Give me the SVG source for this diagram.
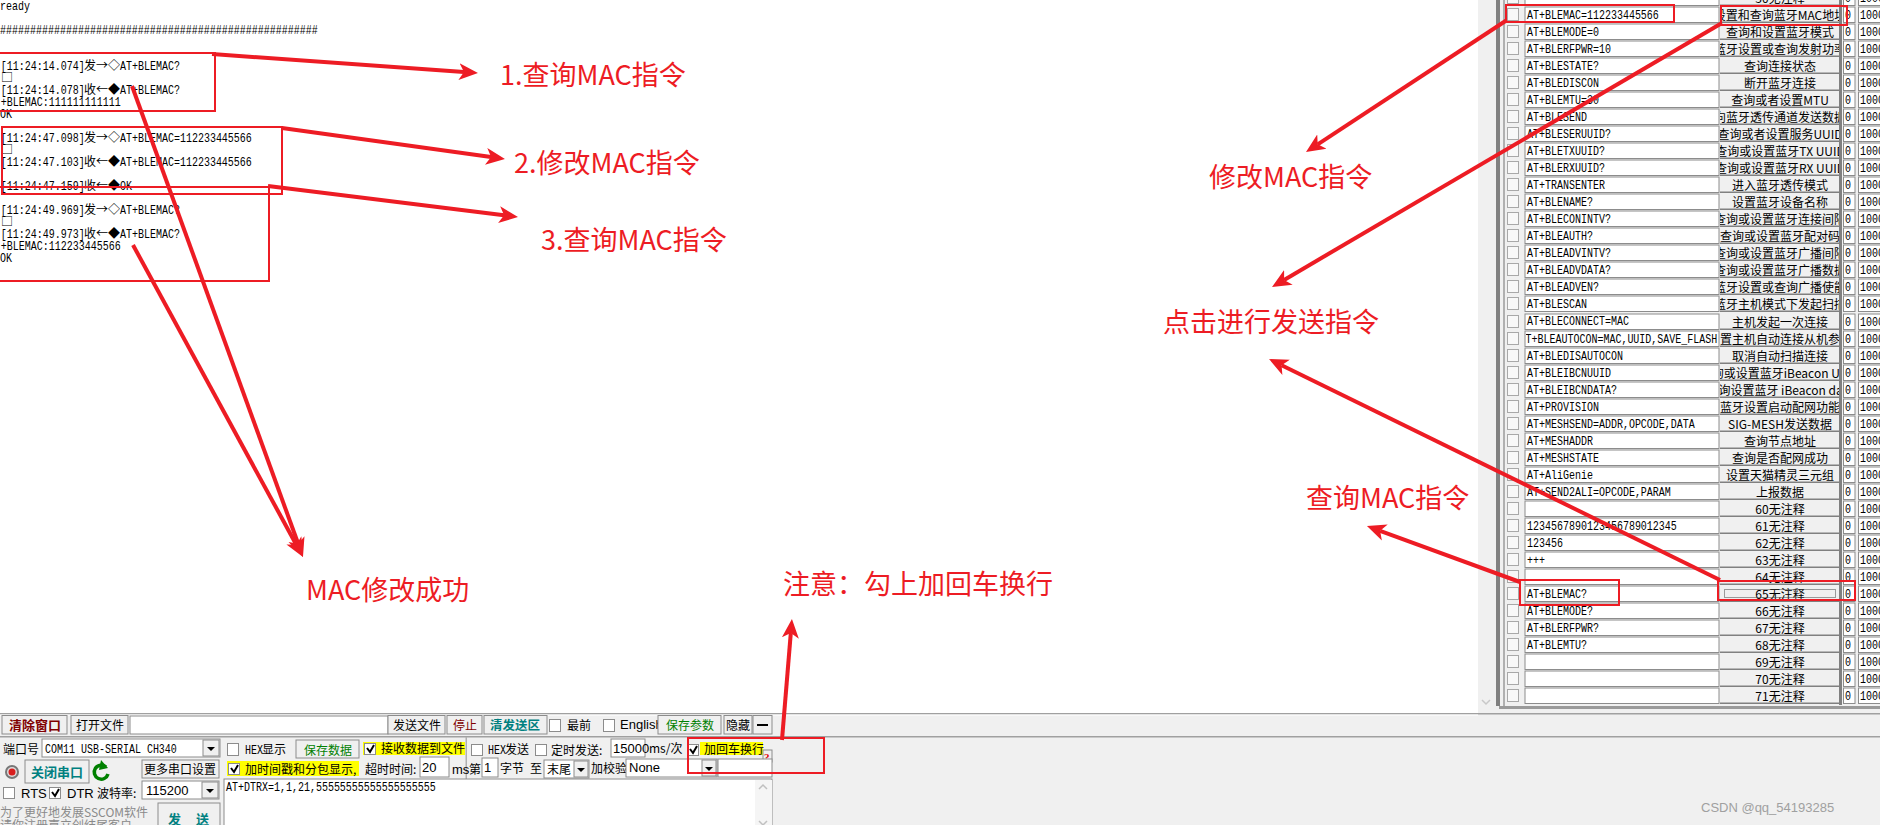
<svg xmlns="http://www.w3.org/2000/svg" xmlns:xlink="http://www.w3.org/1999/xlink" width="1880" height="825" viewBox="0 0 1880 825">
<style>
text{font-family:"Noto Sans CJK SC","Liberation Sans",sans-serif;fill:#000}
.m{font-family:"Liberation Mono","Noto Sans CJK SC",monospace;font-size:12px}
.c{font-size:12px}
.u{font-size:13px}
.s{font-family:"Liberation Sans","Noto Sans CJK SC",sans-serif;font-size:13px}
.bt{font-size:12px;text-anchor:middle}
.a{font-family:"Noto Sans CJK SC","Liberation Sans",sans-serif;font-size:27px;fill:#ed1c24}
.box{fill:none;stroke:#ed1c24;stroke-width:2}
.ar{fill:none;stroke:#ed1c24;stroke-width:4;marker-end:url(#h)}
.btn{fill:#f0f0f0;stroke:#8c8c8c;stroke-width:1}
.inp{fill:#fff;stroke:#8c8c8c;stroke-width:1}
.cb{fill:#fff;stroke:#8c8c8c;stroke-width:1}
.ck{fill:none;stroke:#000;stroke-width:2}
.tri{fill:#000}
.y{fill:#ffff00}
.g{fill:#008000}
.t{fill:#008080;font-weight:700}
</style>
<defs>
<marker id="h" markerUnits="userSpaceOnUse" markerWidth="20" markerHeight="20" viewBox="0 -10 20 20" refX="5" refY="0" orient="auto"><path d="M0 -8.5L19 0L0 8.5L5 0Z" fill="#ed1c24"/></marker>
<clipPath id="cellclip"><rect x="1526" y="0" width="193" height="710"/></clipPath>
<clipPath id="btnclip"><rect x="1720" y="-12" width="119" height="722"/></clipPath>
<clipPath id="lastclip"><rect x="1859" y="-12" width="21" height="722"/></clipPath>
<g id="row">
<rect x="1507.5" y="-6.5" width="11" height="12" fill="#f8f8f8" stroke="#a8a8a8"/>
<rect x="1525" y="-8" width="194" height="15.5" fill="#fff" stroke="#8c8c8c"/>
<rect x="1720" y="-8" width="119" height="15.5" fill="#f0f0f0"/>
<rect x="1720" y="6.5" width="119" height="1.5" fill="#808080"/>
<rect x="1843.5" y="-8" width="11.5" height="15.5" fill="#fff" stroke="#8c8c8c"/>
<rect x="1858.5" y="-8" width="30" height="15.5" fill="#fff" stroke="#8c8c8c"/>
<g transform="translate(1845 4) scale(.8333 1)"><text class="m">0</text></g>
<g transform="translate(1860 4) scale(.8333 1)"><text class="m">1000</text></g>
</g>
</defs>

<rect width="1880" height="825" fill="#fff"/>

<g id="log">
<g transform="scale(.8333 1)">
<text class="m" x="0" y="10">ready</text>
<text class="m" x="0" y="34">#####################################################</text>
<text class="m" x="1" y="70">[11:24:14.074]</text><text class="m" x="144" y="70">AT+BLEMAC?</text>
<text class="m" x="1" y="94">[11:24:14.078]</text><text class="m" x="144" y="94">AT+BLEMAC?</text>
<text class="m" x="1" y="106">+BLEMAC:111111111111</text>
<text class="m" x="0" y="118">OK</text>
<text class="m" x="1" y="142">[11:24:47.098]</text><text class="m" x="144" y="142">AT+BLEMAC=112233445566</text>
<text class="m" x="1" y="166">[11:24:47.103]</text><text class="m" x="144" y="166">AT+BLEMAC=112233445566</text>
<text class="m" x="1" y="190">[11:24:47.159]</text><text class="m" x="144" y="190">OK</text>
<text class="m" x="1" y="214">[11:24:49.969]</text><text class="m" x="144" y="214">AT+BLEMAC?</text>
<text class="m" x="1" y="238">[11:24:49.973]</text><text class="m" x="144" y="238">AT+BLEMAC?</text>
<text class="m" x="1" y="250">+BLEMAC:112233445566</text>
<text class="m" x="0" y="262">OK</text>
</g>
<text class="c" x="84" y="70">发→◇</text><text class="c" x="1" y="82">□</text>
<text class="c" x="84" y="94">收←◆</text>
<text class="c" x="84" y="142">发→◇</text><text class="c" x="1" y="154">□</text>
<text class="c" x="84" y="166">收←◆</text>
<text class="c" x="84" y="190">收←◆</text>
<text class="c" x="84" y="214">发→◇</text><text class="c" x="1" y="226">□</text>
<text class="c" x="84" y="238">收←◆</text>
</g>

<g id="table">
<rect x="1478" y="0" width="402" height="713" fill="#f0f0f0"/>
<rect x="1496" y="0" width="4" height="706" fill="#808080"/>
<rect x="1503" y="0" width="2" height="706" fill="#b0b0b0"/>
<use xlink:href="#row" href="#row" y="-2"/><use xlink:href="#row" href="#row" y="15"/><use xlink:href="#row" href="#row" y="32"/><use xlink:href="#row" href="#row" y="49"/><use xlink:href="#row" href="#row" y="66"/><use xlink:href="#row" href="#row" y="83"/><use xlink:href="#row" href="#row" y="100"/><use xlink:href="#row" href="#row" y="117"/><use xlink:href="#row" href="#row" y="134"/><use xlink:href="#row" href="#row" y="151"/><use xlink:href="#row" href="#row" y="168"/><use xlink:href="#row" href="#row" y="185"/><use xlink:href="#row" href="#row" y="202"/><use xlink:href="#row" href="#row" y="219"/><use xlink:href="#row" href="#row" y="236"/><use xlink:href="#row" href="#row" y="253"/><use xlink:href="#row" href="#row" y="270"/><use xlink:href="#row" href="#row" y="287"/><use xlink:href="#row" href="#row" y="304"/><use xlink:href="#row" href="#row" y="322"/><use xlink:href="#row" href="#row" y="339"/><use xlink:href="#row" href="#row" y="356"/><use xlink:href="#row" href="#row" y="373"/><use xlink:href="#row" href="#row" y="390"/><use xlink:href="#row" href="#row" y="407"/><use xlink:href="#row" href="#row" y="424"/><use xlink:href="#row" href="#row" y="441"/><use xlink:href="#row" href="#row" y="458"/><use xlink:href="#row" href="#row" y="475"/><use xlink:href="#row" href="#row" y="492"/><use xlink:href="#row" href="#row" y="509"/><use xlink:href="#row" href="#row" y="526"/><use xlink:href="#row" href="#row" y="543"/><use xlink:href="#row" href="#row" y="560"/><use xlink:href="#row" href="#row" y="577"/><use xlink:href="#row" href="#row" y="594"/><use xlink:href="#row" href="#row" y="611"/><use xlink:href="#row" href="#row" y="628"/><use xlink:href="#row" href="#row" y="645"/><use xlink:href="#row" href="#row" y="662"/><use xlink:href="#row" href="#row" y="679"/><use xlink:href="#row" href="#row" y="696"/>
<rect x="1839" y="0" width="3" height="705" fill="#808080"/>
<rect x="1499" y="706" width="381" height="3" fill="#9a9a9a"/>
<g clip-path="url(#cellclip)">
<g transform="translate(1527 0) scale(.8333 1)">
<text class="m" y="19">AT+BLEMAC=112233445566</text>
<text class="m" y="36">AT+BLEMODE=0</text>
<text class="m" y="53">AT+BLERFPWR=10</text>
<text class="m" y="70">AT+BLESTATE?</text>
<text class="m" y="87">AT+BLEDISCON</text>
<text class="m" y="104">AT+BLEMTU=30</text>
<text class="m" y="121">AT+BLESEND</text>
<text class="m" y="138">AT+BLESERUUID?</text>
<text class="m" y="155">AT+BLETXUUID?</text>
<text class="m" y="172">AT+BLERXUUID?</text>
<text class="m" y="189">AT+TRANSENTER</text>
<text class="m" y="206">AT+BLENAME?</text>
<text class="m" y="223">AT+BLECONINTV?</text>
<text class="m" y="240">AT+BLEAUTH?</text>
<text class="m" y="257">AT+BLEADVINTV?</text>
<text class="m" y="274">AT+BLEADVDATA?</text>
<text class="m" y="291">AT+BLEADVEN?</text>
<text class="m" y="308">AT+BLESCAN</text>
<text class="m" y="325">AT+BLECONNECT=MAC</text>
<text class="m" x="-9" y="343">AT+BLEAUTOCON=MAC,UUID,SAVE_FLASH</text>
<text class="m" y="360">AT+BLEDISAUTOCON</text>
<text class="m" y="377">AT+BLEIBCNUUID</text>
<text class="m" y="394">AT+BLEIBCNDATA?</text>
<text class="m" y="411">AT+PROVISION</text>
<text class="m" y="428">AT+MESHSEND=ADDR,OPCODE,DATA</text>
<text class="m" y="445">AT+MESHADDR</text>
<text class="m" y="462">AT+MESHSTATE</text>
<text class="m" y="479">AT+AliGenie</text>
<text class="m" y="496">AT+SEND2ALI=OPCODE,PARAM</text>
<text class="m" y="530">1234567890123456789012345</text>
<text class="m" y="547">123456</text>
<text class="m" y="564">+++</text>
<text class="m" y="598">AT+BLEMAC?</text>
<text class="m" y="615">AT+BLEMODE?</text>
<text class="m" y="632">AT+BLERFPWR?</text>
<text class="m" y="649">AT+BLEMTU?</text>
</g>
</g>
<g clip-path="url(#btnclip)">
<text class="bt" x="1780" y="3">30无注释</text>
<text class="bt" x="1780" y="20">设置和查询蓝牙MAC地址</text>
<text class="bt" x="1780" y="37">查询和设置蓝牙模式</text>
<text class="bt" x="1780" y="54">蓝牙设置或查询发射功率</text>
<text class="bt" x="1780" y="71">查询连接状态</text>
<text class="bt" x="1780" y="88">断开蓝牙连接</text>
<text class="bt" x="1780" y="105">查询或者设置MTU</text>
<text class="bt" x="1780" y="122">向蓝牙透传通道发送数据</text>
<text class="bt" x="1780" y="139">查询或者设置服务UUID</text>
<text class="bt" x="1780" y="156">查询或设置蓝牙TX UUID</text>
<text class="bt" x="1780" y="173">查询或设置蓝牙RX UUID</text>
<text class="bt" x="1780" y="190">进入蓝牙透传模式</text>
<text class="bt" x="1780" y="207">设置蓝牙设备名称</text>
<text class="bt" x="1780" y="224">查询或设置蓝牙连接间隔</text>
<text class="bt" x="1780" y="241">查询或设置蓝牙配对码</text>
<text class="bt" x="1780" y="258">查询或设置蓝牙广播间隔</text>
<text class="bt" x="1780" y="275">查询或设置蓝牙广播数据</text>
<text class="bt" x="1780" y="292">蓝牙设置或查询广播使能</text>
<text class="bt" x="1780" y="309">蓝牙主机模式下发起扫描</text>
<text class="bt" x="1780" y="327">主机发起一次连接</text>
<text class="bt" x="1780" y="344">设置主机自动连接从机参数</text>
<text class="bt" x="1780" y="361">取消自动扫描连接</text>
<text class="bt" x="1780" y="378">查询或设置蓝牙iBeacon UUID</text>
<text class="bt" x="1780" y="395">查询设置蓝牙 iBeacon data</text>
<text class="bt" x="1780" y="412">蓝牙设置启动配网功能</text>
<text class="bt" x="1780" y="429">SIG-MESH发送数据</text>
<text class="bt" x="1780" y="446">查询节点地址</text>
<text class="bt" x="1780" y="463">查询是否配网成功</text>
<text class="bt" x="1780" y="480">设置天猫精灵三元组</text>
<text class="bt" x="1780" y="497">上报数据</text>
<text class="bt" x="1780" y="514">60无注释</text>
<text class="bt" x="1780" y="531">61无注释</text>
<text class="bt" x="1780" y="548">62无注释</text>
<text class="bt" x="1780" y="565">63无注释</text>
<text class="bt" x="1780" y="582">64无注释</text>
<text class="bt" x="1780" y="599">65无注释</text>
<text class="bt" x="1780" y="616">66无注释</text>
<text class="bt" x="1780" y="633">67无注释</text>
<text class="bt" x="1780" y="650">68无注释</text>
<text class="bt" x="1780" y="667">69无注释</text>
<text class="bt" x="1780" y="684">70无注释</text>
<text class="bt" x="1780" y="701">71无注释</text>
</g>
<rect x="1724.5" y="589.5" width="111" height="8" fill="none" stroke="#444" stroke-dasharray="1 1"/>
<path d="M1482 700l4 4 4-4" fill="none" stroke="#c8c8c8" stroke-width="1.5"/>
</g>

<g id="control-panel">
<rect x="0" y="713" width="1880" height="112" fill="#f0f0f0"/>
<rect x="0" y="713" width="1880" height="1.5" fill="#a0a0a0"/>
<rect x="0" y="736" width="1880" height="1.5" fill="#a0a0a0"/>
<rect x="0" y="714.5" width="1478" height="1" fill="#fff"/>
<rect class="btn" x="2" y="715.5" width="65" height="18.5"/><text x="9" y="730" font-size="13" font-weight="700" style="fill:#800000">清除窗口</text>
<rect class="btn" x="71" y="715.5" width="57" height="18.5"/><text class="c" x="76" y="730">打开文件</text>
<rect class="inp" x="130" y="716" width="258" height="18"/>
<rect class="btn" x="388" y="715.5" width="57" height="18.5"/><text class="c" x="393" y="730">发送文件</text>
<rect class="btn" x="447" y="715.5" width="35" height="18.5"/><text class="c" x="453" y="730" style="fill:#800000">停止</text>
<rect class="btn" x="484" y="715.5" width="63" height="18.5"/><text x="490" y="730" font-size="12.5" class="t">清发送区</text>
<rect class="cb" x="549.5" y="719.5" width="11" height="12"/><text class="c" x="567" y="730">最前</text>
<rect class="cb" x="603.5" y="719.5" width="11" height="12"/><text class="s" x="620" y="729" font-size="12">English</text>
<rect class="btn" x="658" y="715.5" width="63" height="18.5"/><text class="c g" x="666" y="730">保存参数</text>
<rect class="btn" x="724" y="715.5" width="28" height="18.5"/><text class="c" x="726" y="730">隐藏</text>
<rect class="btn" x="753" y="715.5" width="19" height="18.5"/><rect x="757" y="724" width="11" height="2"/>

<text class="c" x="3" y="754">端口号</text>
<rect class="inp" x="42" y="739" width="178" height="18"/>
<g transform="translate(45 753) scale(.8333 1)"><text class="m">COM11 USB-SERIAL CH340</text></g>
<rect class="btn" x="203" y="740" width="16" height="16"/><path class="tri" d="M207 747h8l-4 4z"/>
<rect class="cb" x="227.5" y="743.5" width="11" height="12"/>
<g transform="translate(245 754) scale(.8333 1)"><text class="m">HEX</text></g><text class="c" x="262" y="754">显示</text>
<rect class="btn" x="296" y="740" width="63" height="18"/><text class="c g" x="304" y="755">保存数据</text>
<rect class="y" x="363" y="742" width="102" height="13"/><rect class="cb" x="364.5" y="743.5" width="11" height="11"/><path class="ck" d="M367 748l3 4 4-7"/><text class="c" x="381" y="753">接收数据到文件</text>
<rect x="465.5" y="737" width="1.5" height="42" fill="#b0b0b0"/>
<rect class="cb" x="471.5" y="744.5" width="11" height="11"/>
<g transform="translate(488 754) scale(.8333 1)"><text class="m">HEX</text></g><text class="c" x="505" y="754">发送</text>
<rect class="cb" x="535.5" y="744.5" width="11" height="11"/><text class="c" x="551" y="755">定时发送:</text>
<rect class="inp" x="611" y="739" width="34" height="18"/><text class="s" x="613" y="753" font-size="12.5">15000</text>
<text class="c" x="649" y="753">ms/次</text>
<rect class="cb" x="687.5" y="744.5" width="11" height="11"/><path class="ck" d="M690 749l3 4 4-7"/>
<rect class="y" x="700" y="742" width="63" height="13"/><text class="c" x="704" y="754">加回车换行</text>
<rect class="btn" x="763" y="750" width="9" height="12"/><text x="764" y="761" font-size="11" font-weight="700" style="fill:#e00000;font-family:'Liberation Serif',serif">?</text>

<circle cx="12" cy="772" r="7" fill="#777"/><circle cx="12" cy="772" r="5" fill="#ddd"/><circle cx="12" cy="772" r="3.5" fill="#d81e1e"/>
<rect class="btn" x="25" y="760" width="64" height="23"/><text x="31" y="777" font-size="13" class="t">关闭串口</text>
<path d="M106 767a7 7 0 1 0 2 7" fill="none" stroke="#008000" stroke-width="3.5"/><path d="M101 760l7 8-9 2z" fill="#008000"/>
<rect class="btn" x="142" y="760" width="77" height="18"/><text class="c" x="144" y="774">更多串口设置</text>
<rect class="y" x="227" y="761" width="132" height="15"/><rect class="cb" x="228.5" y="763.5" width="11" height="11"/><path class="ck" d="M231 768l3 4 4-7"/><text class="c" x="245" y="774">加时间戳和分包显示,</text>
<text class="c" x="365" y="774">超时时间:</text>
<rect class="inp" x="420" y="757" width="29" height="20"/><text class="s" x="422" y="772" font-size="12">20</text>
<text class="s" x="452" y="774" font-size="10">ms</text>
<text class="c" x="469" y="774">第</text><rect class="inp" x="482" y="758" width="16" height="19"/><text class="s" x="484" y="772" font-size="12">1</text>
<text class="c" x="500" y="773">字节</text><text class="c" x="530" y="773">至</text>
<rect class="inp" x="544" y="760" width="45" height="18"/><text class="c" x="547" y="774">末尾</text><rect class="btn" x="574" y="761" width="14" height="16"/><path class="tri" d="M577 768h8l-4 4z"/>
<text class="c" x="591" y="773">加校验</text>
<rect class="inp" x="626" y="759" width="91" height="18"/><text class="s" x="629" y="772" font-size="12">None</text><rect class="btn" x="702" y="760" width="14" height="16"/><path class="tri" d="M705 767h8l-4 4z"/>
<rect class="inp" x="718" y="759" width="54" height="18"/>

<rect class="cb" x="3.5" y="787.5" width="11" height="11"/><text class="s" x="21" y="798" font-size="12">RTS</text>
<rect class="cb" x="49.5" y="787.5" width="11" height="11"/><path class="ck" d="M52 792l3 4 4-7"/><text class="s" x="67" y="798" font-size="12">DTR</text>
<text class="c" x="97" y="798">波特率:</text>
<rect class="inp" x="142" y="781" width="77" height="18"/><text class="s" x="146" y="795" font-size="12.5">115200</text><rect class="btn" x="202" y="782" width="16" height="16"/><path class="tri" d="M206 789h8l-4 4z"/>
<text x="0" y="817" font-size="12" style="fill:#8a8a8a">为了更好地发展SSCOM软件</text>
<text x="0" y="830" font-size="12" style="fill:#8a8a8a">请你注册嘉立创结尾客户</text>
<rect class="btn" x="158" y="803" width="62" height="30"/><text x="168" y="824" font-size="13" class="t">发</text><text x="196" y="824" font-size="13" class="t">送</text>
<rect class="inp" x="224" y="779" width="548" height="50"/>
<rect x="755" y="780" width="17" height="45" fill="#f5f5f5"/>
<path d="M759 789l4-4 4 4M759 821l4 4 4-4" fill="none" stroke="#c0c0c0" stroke-width="1.5"/>
<g transform="translate(226 791) scale(.8333 1)"><text class="m">AT+DTRX=1,1,21,55555555555555555555</text></g>
<text class="s" x="1701" y="812" font-size="15.5" style="fill:#a0a0a0">CSDN @qq_54193285</text>
</g>

<g id="highlight-boxes">
<rect class="box" x="-3" y="53" width="218" height="58"/>
<rect class="box" x="2" y="127" width="280" height="67"/>
<rect class="box" x="-3" y="187" width="272" height="94"/>
<rect class="box" x="688" y="738" width="136" height="35"/>
<rect class="box" x="1506" y="5" width="168" height="17"/>
<rect class="box" x="1721" y="6" width="126" height="19"/>
<rect class="box" x="1520" y="580" width="99" height="25"/>
<rect class="box" x="1718" y="581" width="137" height="19"/>
</g>

<g id="connectors">
<path class="ar" d="M212 54L464 72"/>
<path class="ar" d="M282 128L491.100 157.100"/>
<path class="ar" d="M268 186L504.100 215.300"/>
<path class="ar" d="M132 86L298.200 543.800"/>
<path class="ar" d="M133 245L296.300 544.700"/>
<path class="ar" d="M782 740L790.800 633"/>
<path class="ar" d="M1507 20L1317.700 144.300"/>
<path class="ar" d="M1722 23L1284.100 279.900"/>
<path class="ar" d="M1720 580L1281.600 365.200"/>
<path class="ar" d="M1520 582L1380.100 530.800"/>
</g>

<g id="annotations">
<text class="a" x="500" y="85">1.查询MAC指令</text>
<text class="a" x="514" y="173">2.修改MAC指令</text>
<text class="a" x="541" y="250">3.查询MAC指令</text>
<text class="a" x="306" y="600">MAC修改成功</text>
<text class="a" x="783" y="594">注意：勾上加回车换行</text>
<text class="a" x="1209" y="187">修改MAC指令</text>
<text class="a" x="1163" y="332">点击进行发送指令</text>
<text class="a" x="1306" y="508">查询MAC指令</text>
</g>
</svg>
